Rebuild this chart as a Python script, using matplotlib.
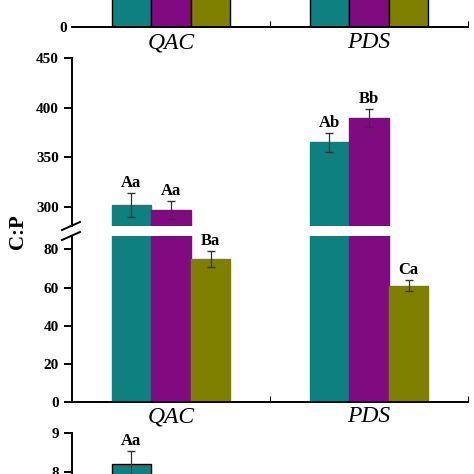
import matplotlib
matplotlib.use("Agg")
import matplotlib.pyplot as plt
import numpy as np

groups = ["QAC", "PDS"]
colors = ["#0f8080", "#800a80", "#808000"]

# middle panel C:P
cp_vals = {"QAC": [302, 297, 75], "PDS": [365, 390, 61]}
cp_err = {"QAC": [12, 9, 4], "PDS": [10, 9, 3]}
cp_lab = {"QAC": ["Aa", "Aa", "Ba"], "PDS": ["Ab", "Bb", "Ca"]}

# top panel (only the base is visible)
top_vals = {"QAC": [1000, 1000, 1000], "PDS": [1000, 1000, 1000]}
# bottom panel (only the top is visible)
bot_vals = {"QAC": [8.2, 0, 0], "PDS": [0, 0, 0]}
bot_err = {"QAC": [0.35, 0, 0], "PDS": [0, 0, 0]}

plt.rcParams["font.family"] = "Liberation Serif"
W = H = 474
fig = plt.figure(figsize=(W / 100, H / 100), dpi=100)


def ax_px(x0, y0, x1, y1):
    return fig.add_axes([x0 / W, 1 - y1 / H, (x1 - x0) / W, (y1 - y0) / H])


bw = 0.2
offs = np.array([-1, 0, 1]) * bw
centers = [0.5, 1.5]


def bars(ax, vals, errs=None, labs=None, lab_dy=0.0, clip=None, edge=True):
    for c, g in zip(centers, groups):
        for i in range(3):
            v = vals[g][i]
            if v <= 0:
                continue
            ax.bar(c + offs[i], v, bw, color=colors[i],
                   edgecolor="black" if edge else colors[i], linewidth=1)
            if errs is not None and errs[g][i] > 0 and (clip is None or clip(v)):
                ax.errorbar(c + offs[i], v, yerr=errs[g][i], color="#333333",
                            capsize=3, linewidth=0.9)
            if labs is not None and (clip is None or clip(v)):
                ax.text(c + offs[i], v + errs[g][i] + lab_dy, labs[g][i], ha="center",
                        va="bottom", fontsize=12, fontweight="bold")


def style(ax):
    for s in ["top", "right"]:
        ax.spines[s].set_visible(False)
    for s in ax.spines.values():
        s.set_linewidth(1.4)
    ax.tick_params(axis="y", labelsize=11, width=1.4, length=6, direction="out")
    for t in ax.get_yticklabels():
        t.set_fontweight("bold")
    ax.set_xlim(0, 2)


# top panel
ax = ax_px(72, -200, 468, 27)
bars(ax, top_vals)
ax.set_ylim(0, 800)
ax.set_yticks([0])
style(ax)
ax.spines["left"].set_visible(False)
ax.tick_params(axis="y", length=0)
ax.set_xticks([1, 2])
ax.tick_params(axis="x", direction="in", length=4, labelbottom=False)
for c, g in zip(centers, groups):
    fig.text((72 + c * 198) / W, 1 - 32 / H, g, ha="center", va="top", fontsize=17,
             style="italic")

# middle panel upper part
ax_u = ax_px(72, 58, 468, 226)
bars(ax_u, cp_vals, cp_err, cp_lab, lab_dy=2, clip=lambda v: v > 200, edge=False)
ax_u.set_ylim(281, 450)
ax_u.set_yticks([300, 350, 400, 450])
style(ax_u)
ax_u.spines["bottom"].set_visible(False)
ax_u.set_xticks([])

# middle panel lower part
ax_l = ax_px(72, 236, 468, 402)
bars(ax_l, cp_vals, cp_err, cp_lab, lab_dy=1, clip=lambda v: v < 200, edge=False)
ax_l.set_ylim(0, 87)
ax_l.set_yticks([0, 20, 40, 60, 80])
style(ax_l)
ax_l.set_xticks([1, 2])
ax_l.tick_params(axis="x", direction="in", length=4, labelbottom=False)
for c, g in zip(centers, groups):
    fig.text((72 + c * 198) / W, 1 - 406 / H, g, ha="center", va="top", fontsize=17,
             style="italic")

# break marks
for y in (226, 236):
    fig.add_artist(plt.Line2D([62 / W, 80 / W], [1 - (y + 4) / H, 1 - (y - 4) / H],
                              color="black", linewidth=1.4))
fig.text(18 / W, 1 - 232 / H, "C:P", rotation=90, ha="center", va="center",
         fontsize=15, fontweight="bold")

# bottom panel
ax_b = ax_px(72, 433, 468, 433 + 9 * 39)
bars(ax_b, bot_vals, bot_err, {"QAC": ["Aa", "", ""], "PDS": ["", "", ""]}, lab_dy=0.05)
ax_b.set_ylim(0, 9)
ax_b.set_yticks([8, 9])
style(ax_b)
ax_b.set_xticks([])

fig.savefig("out.png", dpi=100)
